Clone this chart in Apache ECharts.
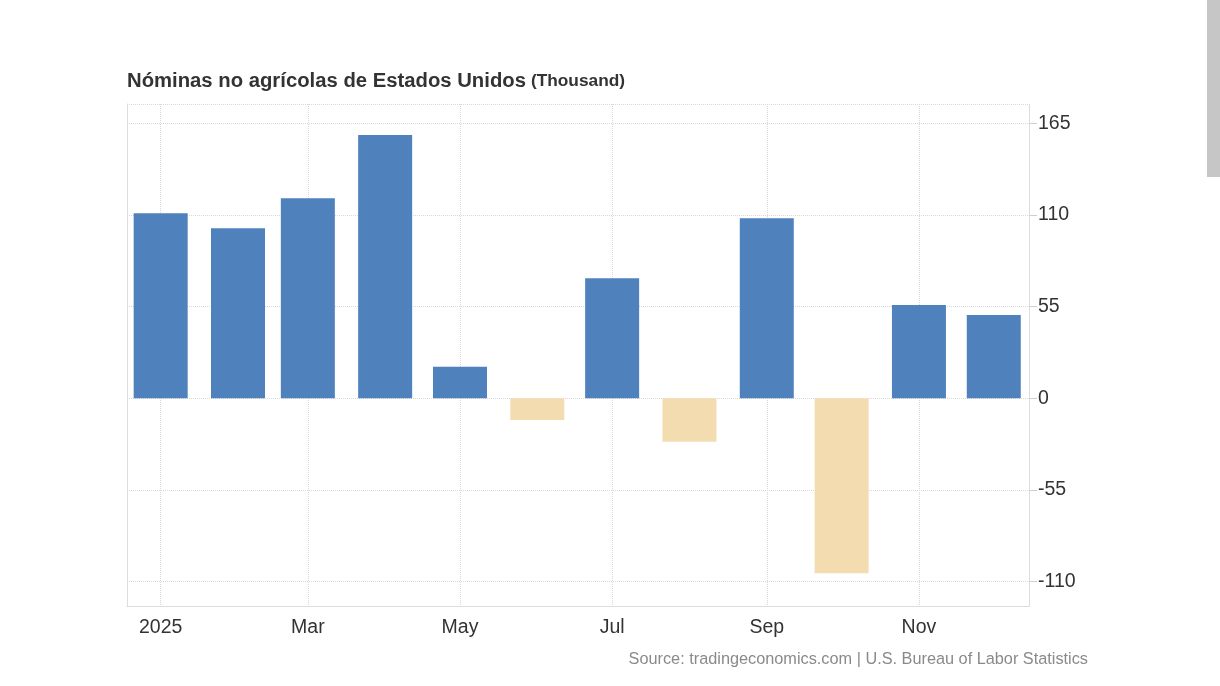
<!DOCTYPE html>
<html>
<head>
<meta charset="utf-8">
<title>Nóminas no agrícolas de Estados Unidos</title>
<script src="https://cdn.jsdelivr.net/npm/echarts@6/dist/echarts.min.js"></script>
<style>
    html, body { margin: 0; padding: 0; background: #fff; }
    #chart { width: 1220px; height: 686px; }
</style>
</head>
<body>
<div id="chart"></div>
<script>
// monthly change, thousands
const months = ['2025-01-01', '2025-02-01', '2025-03-01', '2025-04-01', '2025-05-01', '2025-06-01',
    '2025-07-01', '2025-08-01', '2025-09-01', '2025-10-01', '2025-11-01', '2025-12-01'];
const payrolls = [111, 102, 120, 158, 19, -13, 72, -26, 108, -105, 56, 50];

const xTicks = ['2025-01-01', '2025-03-01', '2025-05-01', '2025-07-01', '2025-09-01', '2025-11-01'];
const xTickNames = ['2025', 'Mar', 'May', 'Jul', 'Sep', 'Nov'];
const yTicks = [-110, -55, 0, 55, 110, 165];

const font = 'Liberation Sans, Arial, sans-serif';
const dotted = { type: 'dotted', color: '#d9d9d9', width: 1 };

// dates as UTC timestamps on a plain value axis
function ts(s) {
    return Date.parse(s.length === 10 ? s + 'T00:00:00Z' : s + 'Z');
}

let nameByMonth = {};
xTicks.forEach(function (d, i) {
    nameByMonth[new Date(ts(d)).getUTCMonth()] = xTickNames[i];
});

let option = {
    animation: false,
    title: {
        text: '{a|Nóminas no agrícolas de Estados Unidos} {b|(Thousand)}',
        left: 127,
        top: 71,
        padding: 0,
        textStyle: {
            rich: {
                a: { fontFamily: font, fontSize: 20.3, fontWeight: 'bold', color: '#333' },
                b: { fontFamily: font, fontSize: 17.3, fontWeight: 'bold', color: '#333' }
            }
        }
    },
    grid: {
        left: 127,
        right: 191,
        top: 104,
        bottom: 80
    },
    xAxis: {
        type: 'value',
        min: ts('2024-12-18T12:00:00'),
        max: ts('2025-12-15T03:00:00'),
        axisLine: { show: true, onZero: false, lineStyle: { color: '#dcdcdc' } },
        axisTick: { show: false, customValues: xTicks.map(ts) },
        splitLine: { show: true, lineStyle: dotted },
        axisLabel: {
            customValues: xTicks.map(ts),
            margin: 12,
            color: '#333',
            fontFamily: font,
            fontSize: 19.5,
            formatter: function (v) {
                return nameByMonth[new Date(v).getUTCMonth()];
            }
        }
    },
    yAxis: [{
        type: 'value',
        position: 'right',
        min: -124.6,
        max: 176.6,
        axisLine: { show: true, lineStyle: { color: '#dcdcdc' } },
        axisTick: { show: true, length: 8, lineStyle: { color: '#cfcfcf' }, customValues: yTicks },
        splitLine: { show: true, lineStyle: dotted },
        axisLabel: {
            customValues: yTicks,
            margin: 9,
            padding: [0, 0, 5, 0],
            color: '#333',
            fontFamily: font,
            fontSize: 19.5
        }
    }, {
        // left frame and dotted top edge
        type: 'value',
        position: 'left',
        min: -124.6,
        max: 176.6,
        axisLine: { show: true, lineStyle: { color: '#dcdcdc' } },
        axisTick: { show: false, customValues: [176.6] },
        axisLabel: { show: false },
        splitLine: { show: true, lineStyle: dotted }
    }],
    series: [{
        name: 'Nóminas no agrícolas',
        type: 'bar',
        barWidth: 54,
        data: months.map(function (m, i) { return [ts(m), payrolls[i]]; }),
        itemStyle: {
            color: function (p) {
                return p.value[1] < 0 ? '#f3ddb0' : '#4f81bd';
            }
        }
    }],
    graphic: [{
        type: 'text',
        right: 132,
        top: 652,
        style: {
            text: 'Source: tradingeconomics.com | U.S. Bureau of Labor Statistics',
            fontFamily: font,
            fontSize: 16.3,
            fill: '#8a8a8a'
        }
    }, {
        type: 'rect',
        left: 1207,
        top: 0,
        shape: { width: 13, height: 177 },
        style: { fill: '#c6c6c6' }
    }]
};

let myChart = echarts.init(document.getElementById('chart'));
myChart.setOption(option);
</script>
</body>
</html>
